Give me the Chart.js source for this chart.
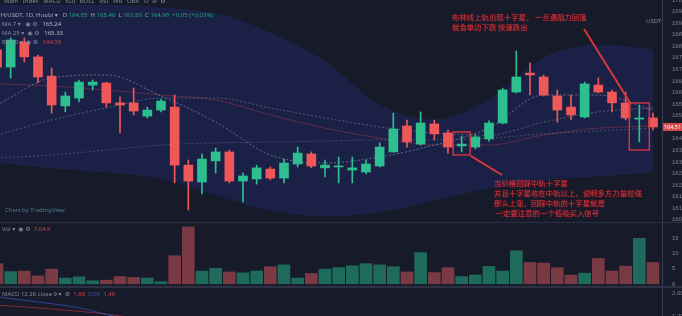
<!DOCTYPE html>
<html>
<head>
<meta charset="utf-8">
<script src="https://cdn.jsdelivr.net/npm/chart.js@4.4.1/dist/chart.umd.min.js"></script>
<style>
html, body { margin: 0; padding: 0; background: #161a29; overflow: hidden; }
#wrap { position: relative; width: 682px; height: 316px; background: #161a29; font-family: "Noto Sans", "DejaVu Sans", sans-serif; }
.pane { position: absolute; left: 0; width: 682px; }
#p1 { top: 0; height: 222px; }
#p2 { top: 223px; height: 63px; }
#p3 { top: 288px; height: 28px; }
.sep { position: absolute; left: 0; width: 682px; height: 1px; background: #2d3144; }
.t { position: absolute; font-size: 6px; line-height: 7px; white-space: nowrap; color: #858a9e; }
.g { color: #23a47c; }
.r { color: #c9444a; }
.b { color: #3d55b8; }
.note { position: absolute; color: #d6353c; font-family: "Noto Sans CJK SC", sans-serif; font-size: 7.4px; line-height: 10px; white-space: nowrap; text-shadow: 0 0 2px rgba(160, 20, 30, 0.8); }
#price { position: absolute; left: 663px; width: 19px; height: 8px; background: #d9464b; color: #fff; font-size: 5.6px; line-height: 8px; text-align: center; }
</style>
</head>
<body>
<div id="wrap">
  <div class="pane" id="p1"><canvas id="c1" width="682" height="222"></canvas></div>
  <div class="sep" style="top:222px"></div>
  <div class="pane" id="p2"><canvas id="c2" width="682" height="63"></canvas></div>
  <div class="sep" style="top:286px;height:2px"></div>
  <div class="pane" id="p3"><canvas id="c3" width="682" height="28"></canvas></div>

  <div class="t" style="left:4px;top:-2px">Main&nbsp;&nbsp; Index&nbsp;&nbsp; MACD&nbsp;&nbsp; KDJ&nbsp;&nbsp; BOLL&nbsp;&nbsp; RSI&nbsp;&nbsp; WR&nbsp;&nbsp; OBV&nbsp;&nbsp; ⊙&nbsp; ⊘&nbsp; ⚙</div>
  <div class="t" style="left:-6px;top:12px;color:#a3a7b8">ETH/USDT, 1D, Huobi ▾&nbsp;&nbsp; O <span class="g">164.85</span>&nbsp; H <span class="g">165.46</span>&nbsp; L <span class="g">163.86</span>&nbsp; C <span class="g">164.90</span>&nbsp; <span class="g">+0.05 (+0.03%)</span></div>
  <div class="t" style="left:2px;top:21px">MA 7 ▾&nbsp;&nbsp; ◉ ⚙&nbsp;&nbsp; <span style="color:#b9bcc8">165.24</span></div>
  <div class="t" style="left:2px;top:30px">MA 25 ▾&nbsp; ◉ ⚙&nbsp;&nbsp; <span style="color:#b9bcc8">165.33</span></div>
  <div class="t" style="left:2px;top:39px">BB 20 ▾&nbsp; ◉ ⚙&nbsp;&nbsp; <span class="r">164.55</span></div>
  <div class="t" style="left:646px;top:18px">USDT</div>
  <div class="t" style="left:5px;top:207px;color:#4f7f8f">Chart by TradingView</div>
  <div class="t" style="left:2px;top:226px">Vol ▾&nbsp; ◉ ⚙&nbsp; <span class="r">7.04 K</span></div>
  <div class="t" style="left:2px;top:291px">MACD 12 26 close 9 ▾&nbsp; ⚙&nbsp; <span class="r">1.68</span>&nbsp; <span class="b">0.00</span>&nbsp; <span class="r">1.46</span></div>
  <div id="price">164.51</div>

  <div class="note" style="left:452px;top:12px">布林线上轨出现十字星，&nbsp;一旦遇阻力回落<br>就会单边下跌 快速跌出</div>
  <div class="note" style="left:494px;top:178px">当价格回踩中轨十字星<br>并且十字星收在中轨以上，说明多方力量较强<br>那么上涨，回踩中轨的十字星就是<br>&nbsp;一定要注意的一个低吸买入信号</div>
</div>

<script>
// daily candles, left to right
const opens  = [167.84,167.10,168.18,167.54,166.71,165.42,165.76,166.32,166.41,165.55,165.55,164.98,165.24,165.37,162.86,162.13,163.04,163.43,162.17,162.26,162.69,162.30,162.91,163.34,162.74,162.78,162.65,162.56,162.82,163.43,164.55,163.77,164.64,164.25,163.69,163.64,163.99,164.68,166.02,166.84,166.67,165.85,165.37,164.94,166.32,166.02,165.55,164.85,164.90];
const highs  = [168.05,168.36,168.36,167.62,167.06,166.02,166.54,166.54,166.45,165.81,166.19,165.37,165.72,165.89,163.08,163.34,163.60,163.51,162.52,162.86,162.78,163.12,163.64,163.43,163.08,163.21,163.21,163.08,163.82,165.11,164.81,165.16,164.81,164.38,164.12,164.16,164.77,166.19,167.79,167.28,166.76,166.11,165.89,166.45,166.63,166.11,166.02,165.46,165.11];
const lows   = [166.89,166.63,167.32,166.41,165.11,165.16,165.59,166.11,165.37,164.25,165.03,164.90,165.16,162.09,160.92,161.61,162.52,162.09,161.27,162.04,162.22,162.09,162.78,162.74,162.35,162.09,162.09,162.48,162.78,163.43,163.64,163.73,163.95,163.38,163.43,163.56,163.90,164.64,165.98,165.89,165.85,164.72,164.81,164.90,165.98,165.16,164.81,163.86,164.38];
const closes = [167.10,168.27,167.54,166.67,165.46,165.85,166.45,166.45,165.55,165.46,165.20,165.24,165.63,162.86,162.17,163.12,163.43,162.17,162.39,162.74,162.30,162.95,163.38,162.82,162.86,162.82,162.74,162.91,163.64,164.42,163.86,164.68,164.21,163.64,163.77,164.08,164.68,166.11,166.67,166.76,165.89,165.24,165.03,166.37,166.02,165.55,164.90,164.90,164.51];
const volumes = [6.6,4.0,4.2,2.6,4.8,1.9,2.3,1.0,1.2,2.4,2.1,1.9,0.7,9.2,18.6,4.2,5.1,3.9,3.6,4.2,5.6,6.2,1.9,3.4,4.8,5.3,5.9,6.6,6.2,5.6,3.9,10.2,3.7,5.3,2.4,2.9,5.7,4.2,10.8,7.0,6.8,5.3,2.9,3.5,8.3,4.2,5.8,14.9,7.0];

// overlay lines read every 4th candle
const knots   = [0,4,8,12,16,20,24,28,32,36,40,44,48];
const bbUpper = [169.78,169.78,169.78,169.65,169.39,168.57,167.32,165.46,164.81,165.68,167.49,168.05,167.84];
const bbLower = [162.99,162.74,162.56,162.30,161.57,160.92,160.66,160.83,161.35,161.87,162.22,162.39,162.56];
const bbBasis = [166.37,166.28,166.11,165.89,165.68,165.03,164.46,164.03,163.73,163.73,164.16,164.46,164.55];
const maFast  = [165.46,166.63,166.76,165.85,164.72,163.30,162.95,163.21,163.73,164.46,165.89,165.89,165.24];
const maMid   = [164.16,164.81,165.33,165.76,165.76,165.33,164.90,164.51,164.25,164.16,164.72,165.16,165.33];
const maSlow  = [163.17,163.30,163.51,163.73,163.82,163.86,163.90,163.95,163.95,164.03,164.21,164.34,164.46];

// lower pane lines (only the start is in view)
const macdIdx  = [0,3,6,9];
const macdLine = [1.88,1.70,1.49,1.13];
const sigIdx   = [0,4,8,11];
const sigLine  = [1.59,1.45,1.27,1.06];

const xMin = 0.22, xMax = 48.66;
const upCol = '#2dbf8f', dnCol = '#ee5858';
const volUp = '#1f6b5b', volDn = '#7a3a43';

const idx = opens.map((_, i) => i);
const isUp = idx.map(i => closes[i] >= opens[i]);
const pts = (xs, ys) => xs.map((x, j) => ({ x: x, y: ys[j] }));

function xAxis() {
  return { type: 'linear', min: xMin, max: xMax, display: false, offset: false };
}
function yAxis(extra) {
  return Object.assign({
    position: 'right',
    grid: { display: false },
    border: { display: true, color: '#3a3e52', width: 1 },
    ticks: { font: { size: 6, family: 'Noto Sans' }, color: '#7c8195', padding: 2 },
    afterFit(s) { s.width = 20; s.paddingTop = 0; s.paddingBottom = 0; }
  }, extra);
}
const base = {
  responsive: false,
  animation: false,
  events: [],
  layout: { padding: 0 },
  plugins: { legend: { display: false }, tooltip: { enabled: false } }
};

const lineDs = (data, color, dash, order) => ({
  type: 'line', data: data, borderColor: color, borderWidth: 1, borderDash: dash,
  pointRadius: 0, cubicInterpolationMode: 'monotone', fill: false, order: order
});

const notes = {
  id: 'notes',
  afterDraw(chart) {
    const { ctx, scales: { x, y } } = chart;
    ctx.save();
    ctx.strokeStyle = '#d9363e';
    ctx.lineWidth = 1.4;
    // box round the doji on the middle band
    const b1x = x.getPixelForValue(34), b1t = y.getPixelForValue(highs[34]) - 4, b1b = y.getPixelForValue(lows[34]) + 3;
    ctx.strokeRect(b1x - 8.5, b1t, 17, b1b - b1t);
    // box round the doji at the top
    const b2x = x.getPixelForValue(47), b2t = y.getPixelForValue(highs[47]) - 2, b2b = y.getPixelForValue(lows[47]) + 8;
    ctx.strokeRect(b2x - 10, b2t, 20, b2b - b2t);
    ctx.lineWidth = 2;
    ctx.beginPath();
    ctx.moveTo(584, 29); ctx.lineTo(b2x - 9, b2t);
    ctx.moveTo(b1x + 9, b1b + 1); ctx.lineTo(502, 175);
    ctx.stroke();
    ctx.restore();
    const lbl = document.getElementById('price');
    lbl.style.top = (y.getPixelForValue(closes[closes.length - 1]) - 4) + 'px';
  }
};

new Chart(document.getElementById('c1'), {
  type: 'bar',
  data: {
    datasets: [
      { type: 'bar', data: idx.map(i => ({ x: i, y: [lows[i], highs[i]] })), backgroundColor: idx.map(i => isUp[i] ? upCol : dnCol),
        barThickness: 1, grouped: false, order: 1 },
      { type: 'bar', data: idx.map(i => ({ x: i, y: [Math.min(opens[i], closes[i]), Math.max(opens[i], closes[i])] })),
        backgroundColor: idx.map(i => isUp[i] ? upCol : dnCol), barThickness: 9, minBarLength: 1, grouped: false, order: 0 },
      Object.assign(lineDs(pts(knots, bbUpper), 'rgba(60,80,180,0.12)', [], 9), { fill: '+1', backgroundColor: 'rgba(40,52,150,0.27)' }),
      lineDs(pts(knots, bbLower), 'rgba(60,80,180,0.12)', [], 9),
      lineDs(pts(knots, bbBasis), 'rgba(190,60,75,0.4)', [], 8),
      lineDs(pts(knots, maFast), 'rgba(190,195,215,0.45)', [2, 2], 7),
      lineDs(pts(knots, maMid), 'rgba(190,195,215,0.35)', [2, 2], 7),
      lineDs(pts(knots, maSlow), 'rgba(170,175,200,0.3)', [2, 2], 7)
    ]
  },
  options: Object.assign({}, base, {
    scales: {
      x: xAxis(),
      y: yAxis({ min: 160.4, max: 170, ticks: { stepSize: 0.5, includeBounds: false, font: { size: 6 }, color: '#7c8195', padding: 2, callback: v => v.toFixed(2) } })
    }
  }),
  plugins: [notes]
});

new Chart(document.getElementById('c2'), {
  type: 'bar',
  data: {
    datasets: [{ data: idx.map(i => ({ x: i, y: volumes[i] })), backgroundColor: idx.map(i => isUp[i] ? volUp : volDn), barThickness: 12, grouped: false }]
  },
  options: Object.assign({}, base, {
    scales: {
      x: xAxis(),
      y: yAxis({ min: -0.7, max: 19.9, ticks: { stepSize: 5, includeBounds: false, font: { size: 6 }, color: '#7c8195', padding: 2 } })
    }
  })
});

new Chart(document.getElementById('c3'), {
  type: 'line',
  data: {
    datasets: [
      lineDs(pts(macdIdx, macdLine), 'rgba(60,85,190,0.7)', [], 1),
      lineDs(pts(sigIdx, sigLine), 'rgba(170,50,65,0.7)', [], 2)
    ]
  },
  options: Object.assign({}, base, {
    scales: {
      x: xAxis(),
      y: yAxis({ min: 1.2, max: 2.2, ticks: { stepSize: 0.4, includeBounds: false, font: { size: 6 }, color: '#7c8195', padding: 2, callback: v => v.toFixed(2) } })
    }
  })
});
</script>
</body>
</html>
